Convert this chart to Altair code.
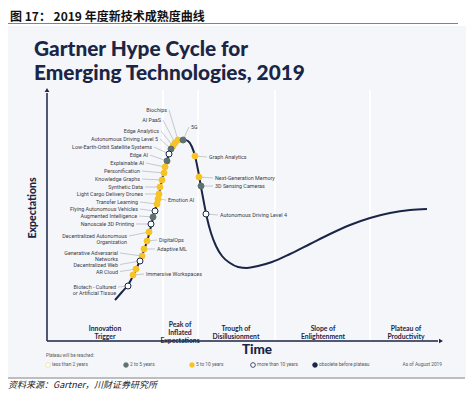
import altair as alt
import pandas as pd

# ---------------- data (page-pixel coordinate system of the picture) ----------------
# hype curve (time -> expectations)
curve_x = [115, 122, 128, 133, 138, 143, 148, 153, 158, 162, 166, 170, 174, 178, 183, 188, 192,
           195, 198, 201, 204, 207, 211, 216, 222, 230, 238, 247, 258, 272, 290, 310, 330, 350,
           370, 390, 410, 427]
curve_y = [300, 292, 285, 276, 265, 253, 238, 218, 199, 180, 164, 152, 145, 141, 139.5, 141, 147,
           156, 170, 187, 203, 218, 233, 246, 256, 263, 267, 268, 266, 262, 254, 244, 234, 225,
           218, 213, 210, 209]

# technologies on the left side of the curve (labels right-aligned)
left_names = ["Biochips", "AI PaaS", "Edge Analytics", "Autonomous Driving Level 5",
              "Low-Earth-Orbit Satellite Systems", "Edge AI", "Explainable AI", "Personification",
              "Knowledge Graphs", "Synthetic Data", "Light Cargo Delivery Drones",
              "Transfer Learning", "Flying Autonomous Vehicles", "Augmented Intelligence",
              "Nanoscale 3D Printing", "Decentralized Autonomous\nOrganization",
              "Generative Adversarial\nNetworks", "Decentralized Web", "AR Cloud",
              "Biotech - Cultured\nor Artificial Tissue"]
left_dot_x = [178, 175, 173, 171, 169, 167, 165, 164, 162, 160, 159, 157, 155, 153, 151, 149, 142, 140, 136, 128]
left_dot_y = [140, 143, 146, 149, 154, 161, 167, 173, 180, 187, 194, 204, 211, 217, 224, 232, 256, 261, 269, 286]
left_status = ["5 to 10 years", "5 to 10 years", "5 to 10 years", "2 to 5 years",
               "more than 10 years", "2 to 5 years", "5 to 10 years", "5 to 10 years",
               "5 to 10 years", "5 to 10 years", "5 to 10 years", "5 to 10 years",
               "more than 10 years", "2 to 5 years", "more than 10 years", "5 to 10 years",
               "5 to 10 years", "more than 10 years", "5 to 10 years", "more than 10 years"]
left_lab_x = [167, 161, 159, 158, 152, 148, 144, 140, 140, 143, 143, 138, 138, 137, 134, 127, 118, 118, 118, 116]
left_lab_y = [110, 120, 131, 139, 147, 155, 163, 171, 179, 187, 194, 202, 209, 216, 224, 236, 253, 264.5, 271.5, 287]

# technologies with labels on the right of their dot (labels left-aligned)
right_names = ["5G", "Emotion AI", "DigitalOps", "Adaptive ML", "Immersive Workspaces",
               "Graph Analytics", "Next-Generation Memory", "3D Sensing Cameras",
               "Autonomous Driving Level 4"]
right_dot_x = [183, 158, 147, 144, 133, 195, 199, 201, 206]
right_dot_y = [140, 199, 241, 249, 275, 156, 177, 186, 214]
right_status = ["2 to 5 years", "5 to 10 years", "5 to 10 years", "5 to 10 years",
                "5 to 10 years", "5 to 10 years", "5 to 10 years", "2 to 5 years",
                "more than 10 years"]
right_lab_x = [191, 168, 159, 157, 146, 209, 215, 215, 220]
right_lab_y = [127, 200, 240, 249, 274, 157, 178, 186, 215]

# phases
phase_names = ["Innovation\nTrigger", "Peak of\nInflated\nExpectations", "Trough of\nDisillusionment",
               "Slope of\nEnlightenment", "Plateau of\nProductivity"]
phase_x = [105, 180, 236, 323, 406]
phase_y = [329, 325, 329, 329, 329]
phase_sep_x = [163, 198, 275, 370]

# legend
legend_labels = ["less than 2 years", "2 to 5 years", "5 to 10 years", "more than 10 years",
                 "obsolete before plateau"]
legend_x = [48, 126, 192, 253, 315]
status_fill = ["#ffffff", "#607171", "#f7c325", "#ffffff", "#1b2545"]
status_stroke = ["#f1df93", "#607171", "#f7c325", "#1b2545", "#1b2545"]

NAVY = "#1b2545"

# ---------------- scales ----------------
X = alt.X("x:Q", scale=alt.Scale(domain=[8, 466], nice=False, zero=False), axis=None)
Y = alt.Y("y:Q", scale=alt.Scale(domain=[391, 8], nice=False, zero=False), axis=None)
X2 = alt.X2("x2:Q")
Y2 = alt.Y2("y2:Q")
fill_scale = alt.Scale(domain=legend_labels, range=status_fill)
stroke_scale = alt.Scale(domain=legend_labels, range=status_stroke)


def text_layer(df, **kw):
    return alt.Chart(df).mark_text(**kw).encode(x=X, y=Y, text="t:N")


def rule_layer(df, **kw):
    return alt.Chart(df).mark_rule(**kw).encode(x=X, y=Y, x2=X2, y2=Y2)


layers = []

# panel background
layers.append(alt.Chart(pd.DataFrame({"x": [8], "x2": [466], "y": [26], "y2": [377]}))
              .mark_rect(color="#f4f6f9").encode(x=X, x2=X2, y=Y, y2=Y2))
# red title rule and gray bottom rule
layers.append(rule_layer(pd.DataFrame({"x": [8], "x2": [458], "y": [23.5], "y2": [23.5]}),
                         color="#c8656a", strokeWidth=1))
layers.append(rule_layer(pd.DataFrame({"x": [8], "x2": [465], "y": [378], "y2": [378]}),
                         color="#7d7d7d", strokeWidth=1))
# phase separators
layers.append(rule_layer(pd.DataFrame({"x": phase_sep_x, "x2": phase_sep_x,
                                       "y": [90] * 4, "y2": [340] * 4}),
                         color="#ffffff", strokeWidth=2))

# titles
layers.append(text_layer(pd.DataFrame({"x": [10], "y": [17], "t": ["图 17：  2019 年度新技术成熟度曲线"]}),
                         align="left", baseline="middle", font="Noto Sans CJK SC",
                         fontWeight="bold", fontSize=12, color="#111111"))
layers.append(text_layer(pd.DataFrame({"x": [34, 34], "y": [56, 79.5],
                                       "t": ["Gartner Hype Cycle for", "Emerging Technologies, 2019"]}),
                         align="left", baseline="alphabetic",
                         font="Lato", fontWeight=900, fontSize=20.8, color=NAVY))

# axes
layers.append(rule_layer(pd.DataFrame({"x": [47, 47], "x2": [47, 438], "y": [93, 341], "y2": [341, 341]}),
                         color=NAVY, strokeWidth=1.5))
layers.append(alt.Chart(pd.DataFrame({"x": [47], "y": [90]}))
              .mark_point(shape="triangle-up", filled=True, size=22, color=NAVY, opacity=1)
              .encode(x=X, y=Y))
layers.append(alt.Chart(pd.DataFrame({"x": [441], "y": [341]}))
              .mark_point(shape="triangle-right", filled=True, size=22, color=NAVY, opacity=1)
              .encode(x=X, y=Y))
layers.append(text_layer(pd.DataFrame({"x": [33], "y": [208], "t": ["Expectations"]}),
                         angle=270, align="center", baseline="middle", font="Lato",
                         fontWeight=900, fontSize=10.5, color=NAVY))
layers.append(text_layer(pd.DataFrame({"x": [257], "y": [350], "t": ["Time"]}),
                         align="center", baseline="middle", font="Lato",
                         fontWeight=900, fontSize=13.5, color=NAVY))
layers.append(text_layer(pd.DataFrame({"x": phase_x, "y": phase_y, "t": phase_names}),
                         align="center", baseline="middle", lineBreak="\n", lineHeight=8,
                         font="Lato", fontWeight="bold", fontSize=6.8, color=NAVY))

# curve
layers.append(alt.Chart(pd.DataFrame({"x": curve_x, "y": curve_y, "o": list(range(len(curve_x)))}))
              .mark_line(color=NAVY, strokeWidth=2, interpolate="monotone")
              .encode(x=X, y=Y, order="o:Q"))

# leader lines
lead_left = pd.DataFrame({"x": [lx + 2 for lx in left_lab_x], "y": left_lab_y,
                          "x2": left_dot_x, "y2": left_dot_y})
lead_right = pd.DataFrame({"x": [lx - 2 for lx in right_lab_x], "y": right_lab_y,
                           "x2": right_dot_x, "y2": right_dot_y})
layers.append(rule_layer(pd.concat([lead_left, lead_right]), color="#a4a9b0", strokeWidth=0.6))

# technology dots
dots = pd.DataFrame({"x": left_dot_x + right_dot_x, "y": left_dot_y + right_dot_y,
                     "s": left_status + right_status})
layers.append(alt.Chart(dots).mark_point(filled=True, size=36, strokeWidth=1, opacity=1)
              .encode(x=X, y=Y, fill=alt.Fill("s:N", scale=fill_scale, legend=None),
                      stroke=alt.Stroke("s:N", scale=stroke_scale, legend=None)))

# technology labels
layers.append(text_layer(pd.DataFrame({"x": left_lab_x, "y": left_lab_y, "t": left_names}),
                         align="right", baseline="middle", lineBreak="\n", lineHeight=5.8,
                         font="Roboto", fontSize=5.4, color="#3b404a"))
layers.append(text_layer(pd.DataFrame({"x": right_lab_x, "y": right_lab_y, "t": right_names}),
                         align="left", baseline="middle", lineBreak="\n", lineHeight=5.8,
                         font="Roboto", fontSize=5.4, color="#3b404a"))

# legend
layers.append(text_layer(pd.DataFrame({"x": [46], "y": [356], "t": ["Plateau will be reached:"]}),
                         align="left", baseline="middle", font="Roboto", fontSize=4.6, color="#555a62"))
leg = pd.DataFrame({"x": legend_x, "y": [365] * 5, "s": legend_labels})
layers.append(alt.Chart(leg).mark_point(filled=True, size=22, strokeWidth=0.8, opacity=1)
              .encode(x=X, y=Y, fill=alt.Fill("s:N", scale=fill_scale, legend=None),
                      stroke=alt.Stroke("s:N", scale=stroke_scale, legend=None)))
layers.append(text_layer(pd.DataFrame({"x": [lx + 4 for lx in legend_x], "y": [365] * 5,
                                       "t": legend_labels}),
                         align="left", baseline="middle", font="Roboto", fontSize=4.8, color="#555a62"))
layers.append(text_layer(pd.DataFrame({"x": [442], "y": [365], "t": ["As of August 2019"]}),
                         align="right", baseline="middle", font="Roboto", fontSize=4.8, color="#555a62"))

# source footer
layers.append(text_layer(pd.DataFrame({"x": [8], "y": [385], "t": ["资料来源：Gartner，川财证券研究所"]}),
                         align="left", baseline="middle", font="Noto Sans CJK SC",
                         fontStyle="italic", fontSize=9, color="#222222"))

chart = alt.layer(*layers).properties(
    width=458, height=383, padding=0, background="#ffffff",
    autosize=alt.AutoSizeParams(type="none"),
).configure_view(stroke=None)

chart.save("out.html", embed_options={"renderer": "svg", "actions": False})
